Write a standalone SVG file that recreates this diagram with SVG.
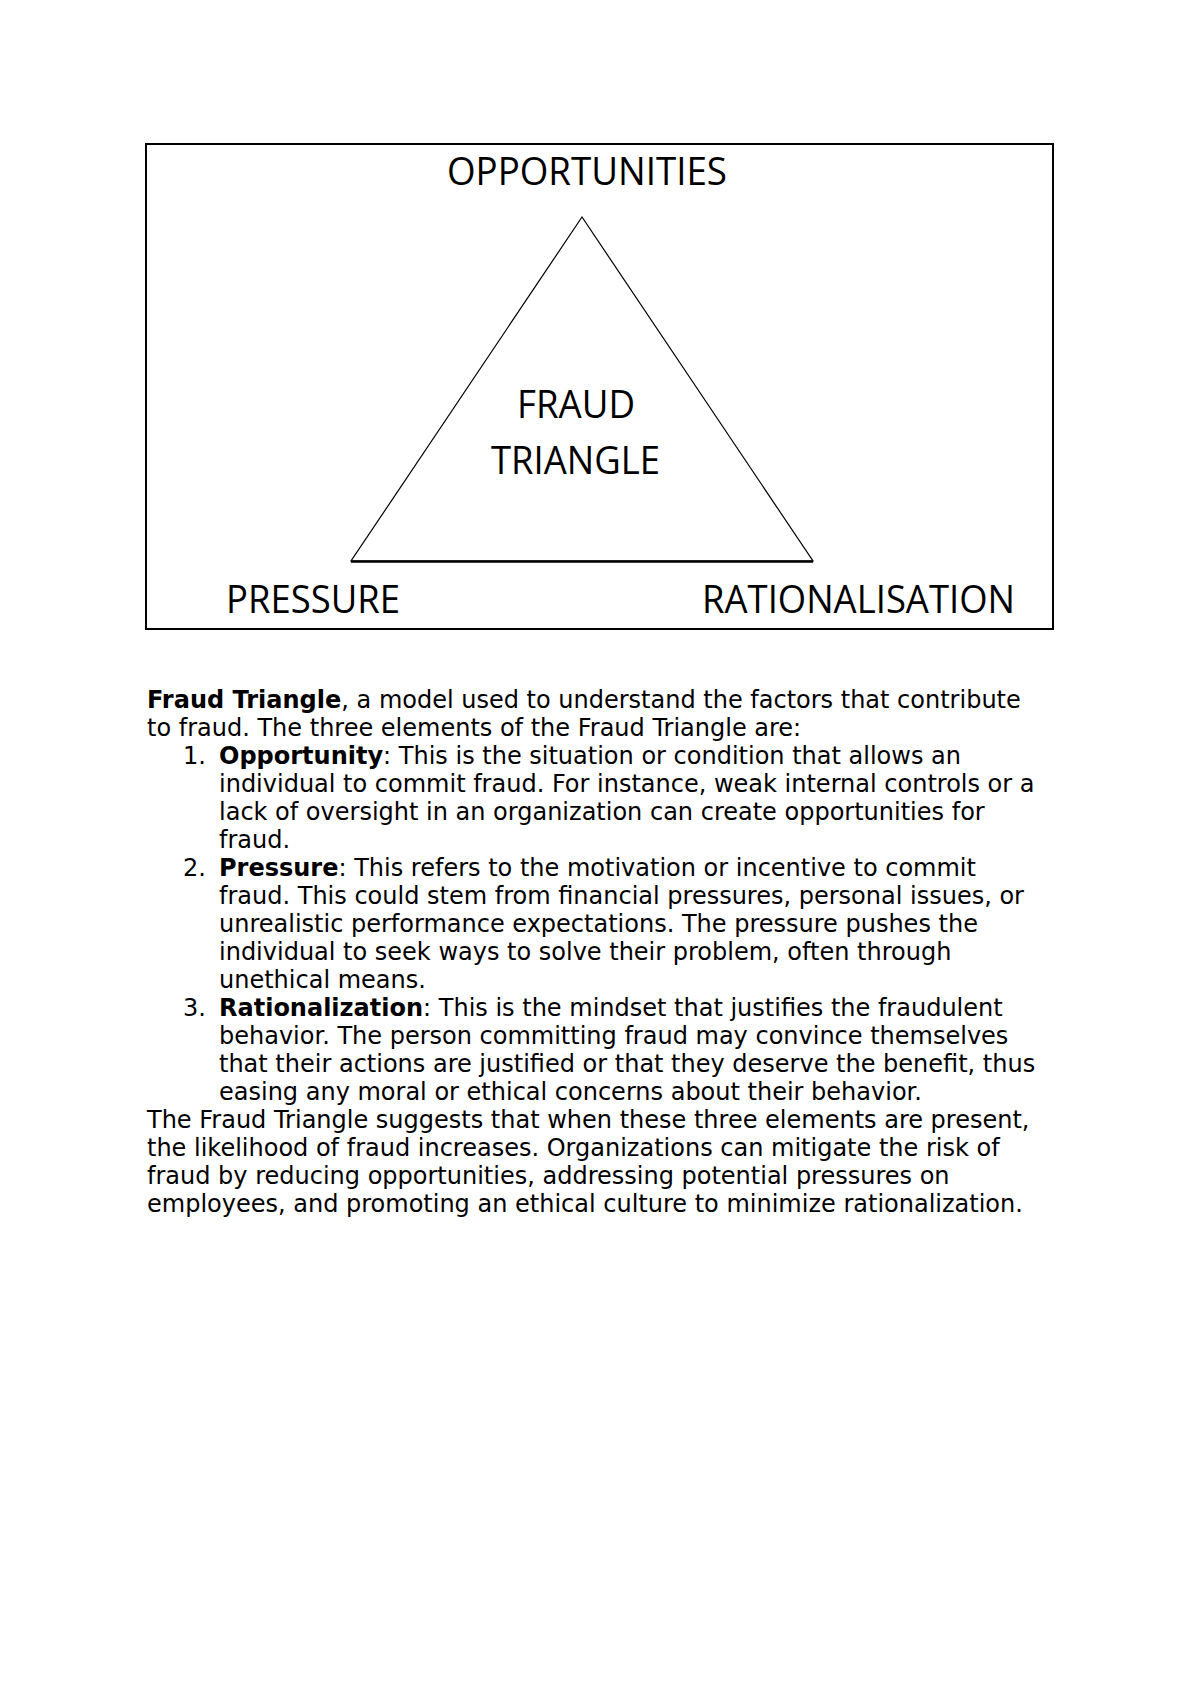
<svg xmlns="http://www.w3.org/2000/svg" width="1200" height="1696" viewBox="0 0 1200 1696">
<style>
.d{font-family:"Open Sans","Liberation Sans",sans-serif;font-size:39px;fill:#000}
.b{font-family:"DejaVu Sans",sans-serif;font-size:24px;fill:#000}
.k{font-weight:bold}
</style>
<rect width="1200" height="1696" fill="#fff"/>
<g id="diagram">
<rect x="146" y="144" width="907" height="485" fill="none" stroke="#000" stroke-width="2"/>
<polygon points="582,217 351,561 813,561" fill="none" stroke="#000" stroke-width="1.2"/>
<line x1="351" y1="561.5" x2="813" y2="561.5" stroke="#000" stroke-width="2.5"/>
<text class="d" x="447" y="185" textLength="280" lengthAdjust="spacingAndGlyphs">OPPORTUNITIES</text>
<text class="d" x="517" y="418" textLength="118" lengthAdjust="spacingAndGlyphs">FRAUD</text>
<text class="d" x="491" y="474" textLength="169" lengthAdjust="spacingAndGlyphs">TRIANGLE</text>
<text class="d" x="226" y="613" textLength="174" lengthAdjust="spacingAndGlyphs">PRESSURE</text>
<text class="d" x="702" y="613" textLength="313" lengthAdjust="spacingAndGlyphs">RATIONALISATION</text>
</g>
<g id="body" class="b">
<text x="147" y="708"><tspan class="k">Fraud Triangle</tspan>, a model used to understand the factors that contribute</text>
<text x="147" y="736">to fraud. The three elements of the Fraud Triangle are:</text>
<text x="183" y="764">1.</text>
<text x="219" y="764"><tspan class="k">Opportunity</tspan>: This is the situation or condition that allows an</text>
<text x="219" y="792">individual to commit fraud. For instance, weak internal controls or a</text>
<text x="219" y="820">lack of oversight in an organization can create opportunities for</text>
<text x="219" y="848">fraud.</text>
<text x="183" y="876">2.</text>
<text x="219" y="876"><tspan class="k">Pressure</tspan>: This refers to the motivation or incentive to commit</text>
<text x="219" y="904">fraud. This could stem from financial pressures, personal issues, or</text>
<text x="219" y="932">unrealistic performance expectations. The pressure pushes the</text>
<text x="219" y="960">individual to seek ways to solve their problem, often through</text>
<text x="219" y="988">unethical means.</text>
<text x="183" y="1016">3.</text>
<text x="219" y="1016"><tspan class="k">Rationalization</tspan>: This is the mindset that justifies the fraudulent</text>
<text x="219" y="1044">behavior. The person committing fraud may convince themselves</text>
<text x="219" y="1072">that their actions are justified or that they deserve the benefit, thus</text>
<text x="219" y="1100">easing any moral or ethical concerns about their behavior.</text>
<text x="147" y="1128">The Fraud Triangle suggests that when these three elements are present,</text>
<text x="147" y="1156">the likelihood of fraud increases. Organizations can mitigate the risk of</text>
<text x="147" y="1184">fraud by reducing opportunities, addressing potential pressures on</text>
<text x="147" y="1212">employees, and promoting an ethical culture to minimize rationalization.</text>
</g>
</svg>
